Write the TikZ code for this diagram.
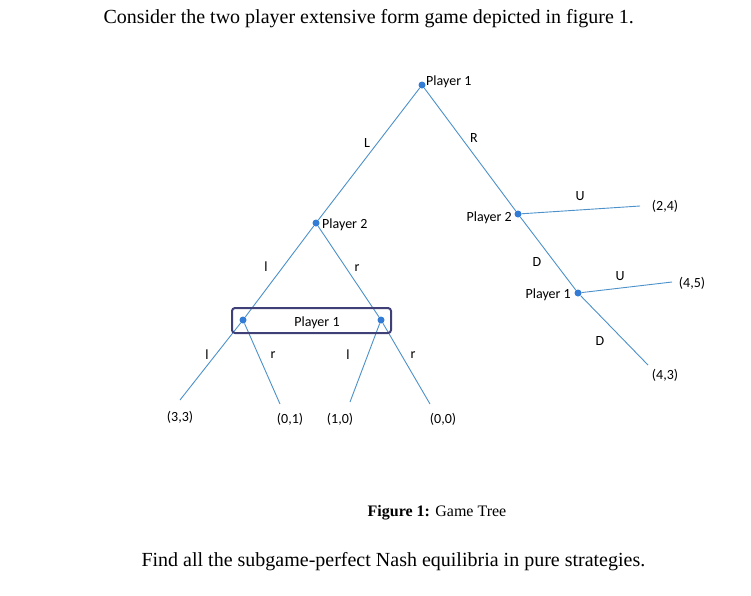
\documentclass[tikz,border=0pt]{standalone}
\usepackage{fontspec}
\setmainfont{Liberation Serif}
\newfontfamily\carlitofont{Carlito}
\begin{document}
\begin{tikzpicture}[x=1pt,y=-1pt,
  edge/.style={draw=blue!45!cyan!70!black!70, line width=0.9pt},
  dot/.style={circle,fill=blue!55!cyan!80!black!80,inner sep=0pt,minimum size=7pt},
  lab/.style={font=\carlitofont\fontsize{14}{16}\selectfont,inner sep=1pt}]
\useasboundingbox (0,0) rectangle (751,595);
\node[anchor=west,font=\fontsize{20}{22}\selectfont] (t1) at (100,19) {Consider the two player extensive form game depicted in figure 1.};
\node[dot] (a) at (422,85) {};
\node[dot] (b) at (316,223) {};
\node[dot] (c) at (518,214) {};
\node[dot] (d) at (578,293) {};
\node[dot] (e) at (243,320) {};
\node[dot] (f) at (381,320) {};
\coordinate (cu) at (640,206);
\coordinate (du) at (672,282);
\coordinate (dd) at (648,365);
\coordinate (l1) at (180,400);
\coordinate (l2) at (280,404);
\coordinate (l3) at (350,402);
\coordinate (l4) at (430,404);
\draw[edge] (a)--(b) (a)--(c) (c)--(cu) (c)--(d) (d)--(du) (d)--(dd)
  (b)--(e) (b)--(f) (e)--(l1) (e)--(l2) (f)--(l3) (f)--(l4);
\draw[draw=blue!30!black!75,line width=2pt,rounded corners=3pt] (232,308) rectangle (391,333);
\node[lab,anchor=west] (pa) at (425,82) {Player 1};
\node[lab,anchor=west] (pb) at (321,225) {Player 2};
\node[lab,anchor=east] (pc) at (513,218) {Player 2};
\node[lab,anchor=east] (pd) at (572,295) {Player 1};
\node[lab] (pe) at (317,323) {Player 1};
\node[lab] at (367,143) {L};
\node[lab] at (474,138) {R};
\node[lab] at (266,267) {l};
\node[lab] at (357,268) {r};
\node[lab] at (207,355) {l};
\node[lab] at (273,355) {r};
\node[lab] at (348,355) {l};
\node[lab] at (413,355) {r};
\node[lab] at (580,196) {U};
\node[lab] at (537,262) {D};
\node[lab] at (620,276) {U};
\node[lab] at (600,341) {D};
\node[lab] at (665,206) {(2,4)};
\node[lab] at (692,283) {(4,5)};
\node[lab] at (665,375) {(4,3)};
\node[lab] at (180,417) {(3,3)};
\node[lab] at (290,419) {(0,1)};
\node[lab] at (340,419) {(1,0)};
\node[lab] at (443,419) {(0,0)};
\node[font=\fontsize{16}{18}\selectfont] (cap) at (437,513) {\textbf{Figure 1:} Game Tree};
\node[anchor=west,font=\fontsize{20}{22}\selectfont] (t2) at (138,562) {Find all the subgame-perfect Nash equilibria in pure strategies.};
\end{tikzpicture}
\end{document}
